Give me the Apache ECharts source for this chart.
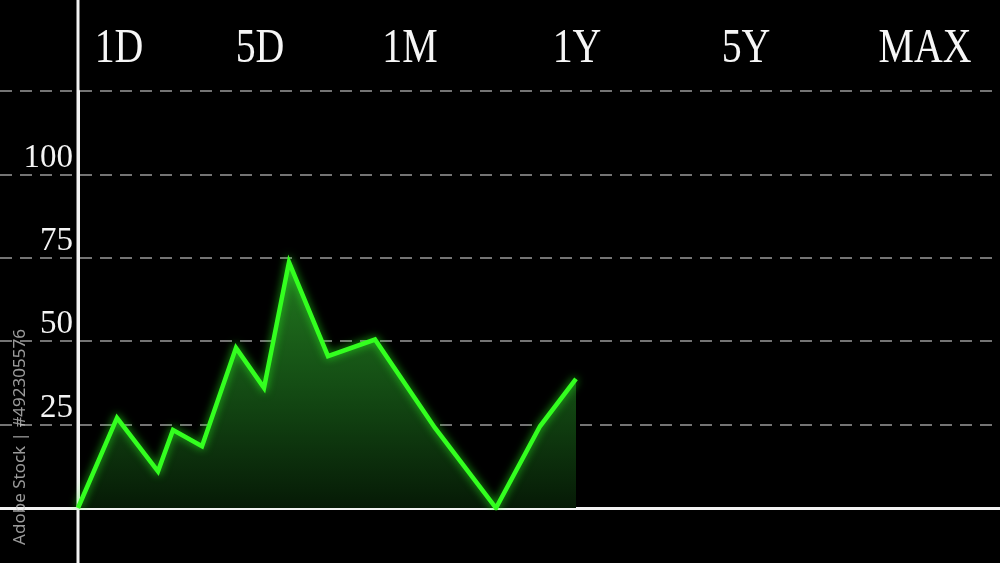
<!DOCTYPE html>
<html><head><meta charset="utf-8">
<script src="https://cdn.jsdelivr.net/npm/echarts@6.0.0/dist/echarts.min.js"></script>
<style>html,body{margin:0;padding:0;background:#000;overflow:hidden}#c{width:1000px;height:563px}</style>
</head><body><div id="c"></div>
<script>
// ---- data ----
const timeframes = ['1D', '5D', '1M', '1Y', '5Y', 'MAX'];
const yTickLabels = ['25', '50', '75', '100'];
const xValues = [0, 39, 80, 95, 124, 158, 186, 211, 250, 297, 357, 418, 462, 498];
const priceValues = [0, 27, 11, 23.4, 18.5, 48, 36, 73.7, 45.5, 50.5, 24, 0, 24.5, 38.7];
const watermarkText = 'Adobe Stock | #492305576';

// ---- layout ----
const timeframeCenters = [119, 260, 410, 577, 746, 925];
const seriesData = xValues.map((x, i) => [x, priceValues[i]]);

const chart = echarts.init(document.getElementById('c'));
chart.setOption({
  backgroundColor: '#000',
  animation: false,
  grid: { left: 0, right: 0, top: 91, bottom: 55, containLabel: false, outerBoundsMode: 'none' },
  xAxis: {
    type: 'value', min: -78, max: 922,
    axisLine: { show: true, onZero: true, lineStyle: { color: '#f2f2f2', width: 3 } },
    axisTick: { show: false }, axisLabel: { show: false }, splitLine: { show: false }
  },
  yAxis: {
    type: 'value', min: 0, max: 125, interval: 25,
    position: 'left', offset: -78,
    axisLine: { show: true, onZero: false, lineStyle: { color: '#f2f2f2', width: 3 } },
    axisTick: { show: false },
    axisLabel: {
      show: true, margin: 5, color: '#f4f4f4',
      fontFamily: 'Liberation Serif', fontSize: 33, lineHeight: 33,
      verticalAlign: 'bottom',
      formatter: v => yTickLabels.includes(String(v)) ? String(v) : ''
    },
    splitLine: { show: true, lineStyle: { color: '#9a9a9a', width: 1.6, type: [12, 8] } }
  },
  series: [{
    type: 'line',
    data: seriesData,
    symbol: 'none',
    z: 3,
    lineStyle: { color: '#33ff1f', width: 4.5, shadowColor: 'rgba(40,255,30,0.75)', shadowBlur: 9, join: 'miter' },
    areaStyle: {
      color: new echarts.graphic.LinearGradient(0, 0, 0, 1, [
        { offset: 0, color: '#237a20' },
        { offset: 0.5, color: '#144d14' },
        { offset: 1, color: '#061a06' }
      ]),
      opacity: 1
    }
  }]
});

const axisX = chart.convertToPixel({ xAxisIndex: 0 }, 0);
const graphics = [
  { type: 'line', z: 1, shape: { x1: axisX, y1: 0, x2: axisX, y2: 563 }, style: { stroke: '#f2f2f2', lineWidth: 3 } },
  {
    type: 'text', x: 20, y: 437, rotation: Math.PI / 2, z: 5,
    style: { text: watermarkText, x: 0, y: 0, align: 'center', verticalAlign: 'middle',
      font: '17px "Noto Sans"', fill: 'rgba(205,205,205,0.75)' }
  }
];
timeframes.forEach((t, i) => {
  graphics.push({
    type: 'text', x: timeframeCenters[i], y: 49, scaleX: 0.83, z: 5,
    style: { text: t, x: 0, y: 0, align: 'center', verticalAlign: 'middle',
      font: '48px "Liberation Serif"', fill: '#f6f6f6' }
  });
});
chart.setOption({ graphic: graphics });
</script></body></html>
